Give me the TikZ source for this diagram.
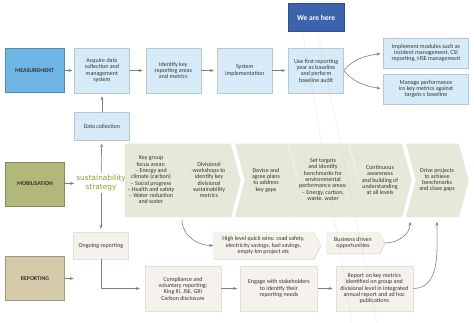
\documentclass[tikz,border=0pt]{standalone}
\usepackage{fontspec}
\setmainfont{Carlito}
\newfontfamily\stratfont{DejaVu Sans}
\usepackage{tikz}
\usetikzlibrary{shapes,arrows.meta,positioning,calc,shadows}
\definecolor{susblue}{HTML}{6DB5E5}
\definecolor{susnavy}{HTML}{3D63AC}
\definecolor{suslight}{HTML}{D7EAF8}
\definecolor{susolive}{HTML}{B2B879}
\definecolor{susgreen}{HTML}{8F9C2E}
\definecolor{suschev}{HTML}{E6E9D7}
\definecolor{sustan}{HTML}{D5CBAB}
\definecolor{suscream}{HTML}{F4F2EA}
\definecolor{susarrow}{HTML}{7F7F7F}

\begin{document}
\begin{tikzpicture}[
    every node/.style={align=center, font=\fontsize{6}{6.3}\selectfont, text=black!80, inner sep=1pt},
    head/.style={draw=#1!75!black, fill=#1, minimum width=59pt, minimum height=44pt, font=\fontsize{5.8}{6.3}\selectfont\bfseries, drop shadow={shadow xshift=0.8pt, shadow yshift=-0.8pt, opacity=0.4}},
    bluebox/.style={draw=suslight!85!black, fill=suslight, minimum width=55pt, minimum height=45pt, drop shadow={shadow xshift=0.8pt, shadow yshift=-0.8pt, opacity=0.25}},
    creambox/.style={draw=black!12, fill=suscream, minimum height=45pt, drop shadow={shadow xshift=0.8pt, shadow yshift=-0.8pt, opacity=0.25}},
    chev/.style={shape=signal, signal from=west, signal to=east, signal pointer angle=150, fill=suschev, minimum width=62pt, minimum height=73pt, drop shadow={shadow xshift=0.8pt, shadow yshift=-0.8pt, opacity=0.2}},
    tag/.style={shape=signal, signal to=east, signal pointer angle=125, draw=black!12, fill=suscream, drop shadow={shadow xshift=0.8pt, shadow yshift=-0.8pt, opacity=0.25}},
    arrow/.style={-{Stealth[length=4pt, width=3pt]}, susarrow, line width=0.6pt, shorten >=3pt}
]
    \useasboundingbox (0,0) rectangle (474pt,322pt);

    \node[head=susblue] (meas) at (34.5pt,251.5pt) {MEASUREMENT};
    \node[bluebox, right=10pt of meas] (acquire) {Acquire data\\collection and\\management\\system};
    \node[bluebox, right=16pt of acquire] (identify) {Identify key\\reporting areas\\and metrics};
    \node[bluebox, right=16pt of identify] (system) {System\\implementation};
    \node[bluebox, right=16pt of system] (baseline) {Use first reporting\\year as baseline\\and perform\\baseline audit};
    \node[draw=susnavy!80!black, fill=susnavy, minimum width=56pt, minimum height=28pt, text=white, font=\fontsize{7.5}{8}\selectfont\bfseries, above=16pt of baseline, drop shadow={shadow xshift=0.8pt, shadow yshift=-0.8pt, opacity=0.3}] (here) {We are here};
    \node[bluebox, minimum width=85pt, minimum height=30pt] (modules) at (426pt,269pt) {Implement modules such as\\incident management, CSI\\reporting, HSE management};
    \node[bluebox, minimum width=85pt, minimum height=30pt] (perform) at (426pt,233pt) {Manage performance\\iro key metrics against\\targets v baseline};
    \node[bluebox, minimum height=28pt, below=19pt of acquire] (datacol) {Data collection};

    \draw[arrow, shorten >=2pt] (meas) -- (acquire);
    \draw[arrow] (acquire) -- (identify);
    \draw[arrow] (identify) -- (system);
    \draw[arrow] (system) -- (baseline);
    \draw[arrow] (baseline.east) to[out=50, in=190] (modules.west);
    \draw[arrow] (baseline.east) to[out=-50, in=170] (perform.west);
    \draw[arrow] (datacol) -- (acquire);

    \node[head=susolive] (mobil) at (35pt,138pt) {MOBILISATION};
    \node[text=susgreen, font=\stratfont\fontsize{7.4}{9.5}\selectfont] (strategy) at (101pt,139pt) {sustainability\\strategy};
    \draw[arrow, shorten >=1pt] (mobil) -- (strategy);
    \draw[arrow] (strategy) -- (datacol);

    \node[chev, signal from=nowhere] (keygroup) at (151pt,142pt) {Key group\\focus areas:\\– Energy and\\climate (carbon)\\– Social progress\\– Health and safety\\– Water reduction\\and water};
    \node[chev] (workshops) at (209pt,142pt) {Divisional\\workshops to\\identify key\\divisional\\sustainability\\metrics};
    \node[chev] (devise) at (266pt,142pt) {Devise and\\agree plans\\to address\\key gaps};
    \node[chev] (targets) at (323pt,142pt) {Set targets\\and identify\\benchmarks for\\environmental\\performance areas:\\– Energy, carbon,\\waste, water};
    \node[chev] (awareness) at (380pt,142pt) {Continuous\\awareness\\and building of\\understanding\\at all levels};
    \node[chev] (projects) at (437pt,142pt) {Drive projects\\to achieve\\benchmarks\\and close gaps};

    \node[tag, minimum width=107pt, minimum height=27pt] (quickwins) at (263.5pt,76.5pt) {High level quick wins: road safety,\\electricity savings, fuel savings,\\empty km project etc};
    \node[tag, minimum width=58pt, minimum height=21pt] (business) at (353pt,79pt) {Business driven\\opportunities};

    \node[head=sustan] (reporting) at (35pt,43.5pt) {REPORTING};
    \coordinate[right=9pt of reporting] (repgo);
    \node[creambox, minimum width=55pt, minimum height=27pt] (ongoing) at (101pt,76.5pt) {Ongoing reporting};
    \node[creambox, minimum width=76pt] (comply) at (183pt,33.5pt) {Compliance and\\voluntary reporting:\\King III, JSE, GRI\\Carbon disclosure};
    \node[creambox, minimum width=77pt, right=19pt of comply] (engage) {Engage with stakeholders\\to identify their\\reporting needs};
    \node[creambox, minimum width=77pt, right=18pt of engage] (publish) {Report on key metrics\\identified on group and\\divisional level in integrated\\annual report and ad hoc\\publications};

    \draw[arrow] (strategy) -- (ongoing);
    \draw[arrow, shorten >=0pt] (reporting) -- (repgo);
    \draw[arrow, shorten >=5pt] (ongoing) |- (comply);
    \draw[arrow] (comply) -- (engage);
    \draw[arrow] (engage) -- (publish);
    \draw[arrow, shorten >=0pt] ([xshift=-27pt, yshift=-3pt]workshops.south) to[out=-90, in=180] (quickwins.west);
    \draw[arrow, shorten >=0pt] (business.east) to[out=0, in=-90] ([xshift=30pt, yshift=-5pt]awareness.south);
    \draw[arrow, shorten >=0pt] (publish.east) to[out=0, in=-90] ([yshift=-5pt]projects.south);

    \draw[black!20, line width=0.4pt, opacity=0.45] (303pt,287pt) -- (352pt,0pt) (318pt,287pt) -- (377pt,0pt);
\end{tikzpicture}
\end{document}
